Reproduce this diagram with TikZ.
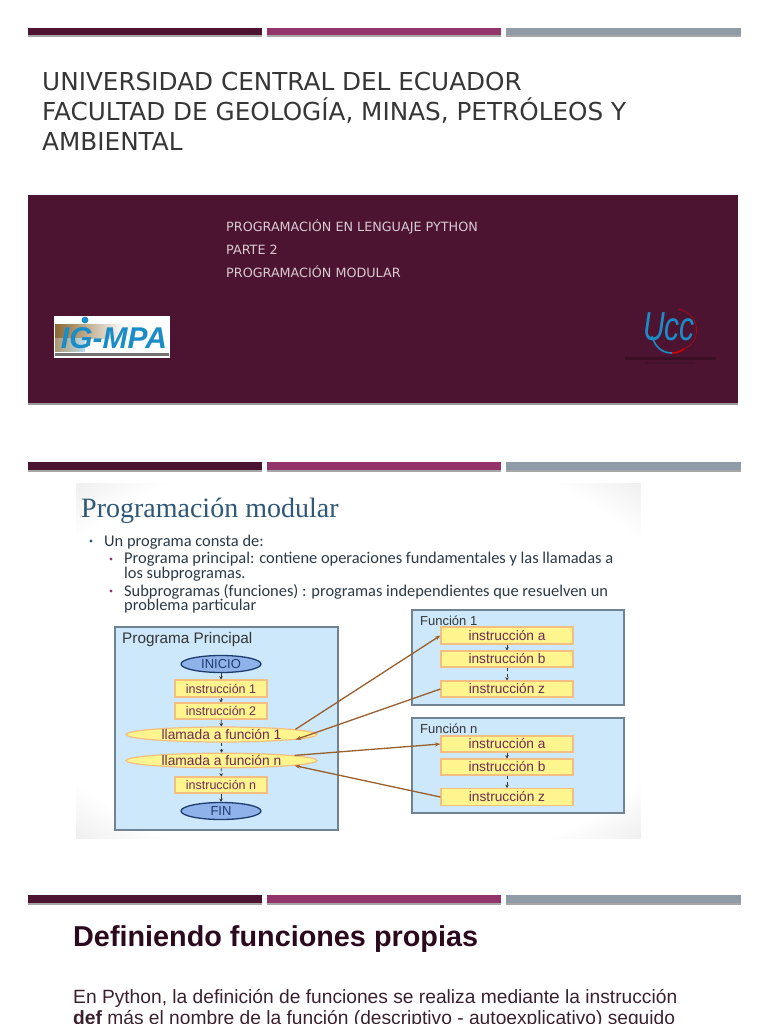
\documentclass[tikz,border=0pt]{standalone}
\usepackage{fontspec}
\setmainfont{Liberation Sans}
\newfontfamily\titlefont{DejaVu Sans}
\newfontfamily\slidefont{Carlito}
\newfontfamily\headfont{Liberation Serif}
\usetikzlibrary{arrows.meta,shapes.geometric}
\definecolor{ucePlum}{HTML}{4C1430}
\definecolor{uceRose}{HTML}{93356B}
\definecolor{uceSteel}{HTML}{8F9BA6}
\definecolor{uceInk}{HTML}{363636}
\definecolor{uceBody}{HTML}{3B2130}
\definecolor{uceHead}{HTML}{2C0A1E}
\definecolor{panelText}{HTML}{D8CBD2}
\definecolor{flowBlue}{HTML}{CCE8FA}
\definecolor{flowEdge}{HTML}{6F8392}
\definecolor{flowStep}{HTML}{FFF58F}
\definecolor{flowLine}{HTML}{F4BE80}
\definecolor{flowText}{HTML}{6E2A55}
\definecolor{flowOval}{HTML}{8FB2EA}
\definecolor{flowNavy}{HTML}{1E3C6E}
\definecolor{flowLink}{HTML}{9A5F2C}
\definecolor{slideHead}{HTML}{2F5878}
\definecolor{slideText}{HTML}{2B3A46}
\definecolor{logoBlue}{HTML}{1A8CC8}
\definecolor{logoGold}{HTML}{8A6A34}
\pgfdeclareradialshading{cornerGlow}{\pgfpointorigin}{color(0bp)=(white); color(30bp)=(white); color(36bp)=(black!7); color(50bp)=(black!7)}
\tikzset{
  title line/.style={anchor=base west, font=\titlefont\fontsize{24.7}{28}\selectfont, text=uceInk, inner sep=0pt},
  panel line/.style={anchor=base west, font=\titlefont\fontsize{12.75}{15}\selectfont, text=panelText, inner sep=0pt},
  slide line/.style={anchor=base west, font=\slidefont\fontsize{16.4}{18}\selectfont, text=slideText, inner sep=0pt},
  body line/.style={anchor=base west, font=\fontsize{19.2}{22}\selectfont, text=uceBody, inner sep=0pt},
  flow group/.style={draw=flowEdge, line width=1.3pt, fill=flowBlue},
  flow title/.style={anchor=base west, font=\fontsize{13}{15}\selectfont, text=uceInk, inner sep=0pt},
  flow step/.style={draw=flowLine, line width=1.2pt, fill=flowStep, text=flowText, inner sep=0pt,
    font=\fontsize{12.5}{14}\selectfont},
  func step/.style={flow step, minimum width=132pt, font=\fontsize{13.7}{15}\selectfont},
  flow call/.style={flow step, ellipse, minimum width=191pt, minimum height=15pt, font=\fontsize{13.8}{15}\selectfont},
  flow end/.style={ellipse, draw=flowNavy, line width=1.3pt, fill=flowOval, text=flowNavy, inner sep=0pt,
    minimum width=80pt, minimum height=17pt, font=\fontsize{13}{15}\selectfont},
  flow arrow/.style={-{Stealth[length=3.2pt,width=3.6pt]}, draw=uceInk, line width=0.7pt},
  flow link/.style={-{Stealth[length=5.5pt,width=4pt]}, draw=flowLink, line width=1.3pt}
}

\begin{document}
\begin{tikzpicture}[x=1pt,y=-1pt]
  \useasboundingbox (0,0) rectangle (768,1024);
  \clip (0,0) rectangle (768,1024);
  % header bars of the three slides
  \foreach \barY in {28,462,895} {
    \fill[black!35] (28,\barY+2.5) rectangle (262,\barY+9.5);
    \fill[black!35] (267,\barY+2.5) rectangle (501,\barY+9.5);
    \fill[black!35] (506,\barY+2.5) rectangle (741,\barY+9.5);
    \fill[ucePlum] (28,\barY) rectangle (262,\barY+7.5);
    \fill[uceRose] (267,\barY) rectangle (501,\barY+7.5);
    \fill[uceSteel] (506,\barY) rectangle (741,\barY+7.5);
  }
  % first slide
  \node[title line] (title1) at (42,91) {UNIVERSIDAD CENTRAL DEL ECUADOR};
  \node[title line] (title2) at (42,121) {FACULTAD DE GEOLOGÍA, MINAS, PETRÓLEOS Y};
  \node[title line] (title3) at (42,151) {AMBIENTAL};
  \fill[black!40] (28,197) rectangle (738,405);
  \fill[ucePlum] (28,195) rectangle (738,403);
  \node[panel line] (panel1) at (226,232) {PROGRAMACIÓN EN LENGUAJE PYTHON};
  \node[panel line] (panel2) at (226,254.5) {PARTE 2};
  \node[panel line] (panel3) at (226,277.5) {PROGRAMACIÓN MODULAR};
  % left logo
  \fill[white] (54,316) rectangle (170,358);
  \shade[left color=logoGold, right color=white] (55,324) rectangle (125,338);
  \shade[left color=logoGold!70!white, right color=logoBlue!30!white] (55,338) rectangle (85,351);
  \node[inner sep=0pt, text=logoBlue, font=\bfseries\itshape\fontsize{30}{30}\selectfont] (igmpa) at (114,338) {IG-MPA};
  \fill[logoBlue] (85,320) circle[radius=3.4];
  \fill[black!55] (55,353) rectangle (169,356);
  % right logo
  \draw[red!45!ucePlum, line width=0.9pt] (678,309) .. controls (700,313) and (703,341) .. (684,349);
  \draw[logoBlue, line width=1.6pt] (652,336) .. controls (655,348) and (663,353) .. (672,353);
  \draw[red!85!black, line width=1.6pt] (672,353) .. controls (677,353) and (681,351) .. (684,349);
  \node[inner sep=0pt, text=logoBlue, yscale=1.35, transform shape, font=\itshape\fontsize{30}{30}\selectfont] (ucc) at (669,327) {Ucc};
  \fill[black!22!ucePlum] (625,357) rectangle (716,359.5);
  \fill[black!12!ucePlum] (645,362) rectangle (695,364);
  % second slide, pasted picture
  \shade[shading=cornerGlow] (76,483) rectangle (641,838);
  \node[anchor=base west, inner sep=0pt, text=slideHead, font=\headfont\fontsize{28}{32}\selectfont] (modular) at (81,517) {Programación modular};
  \node[slide line] (item1) at (104,546) {Un programa consta de:};
  \node[slide line] (item2) at (124,563.5) {Programa principal: contiene operaciones fundamentales y las llamadas a};
  \node[slide line] (item3) at (124,578.5) {los subprogramas.};
  \node[slide line] (item4) at (124,596) {Subprogramas (funciones) : programas independientes que resuelven un};
  \node[slide line] (item5) at (124,610.5) {problema particular};
  \fill[slideHead] (91,541) circle[radius=1.7];
  \fill[uceRose] (111,559) circle[radius=1.7];
  \fill[uceRose] (111,591) circle[radius=1.7];
  % main program
  \draw[flow group] (115,627) rectangle (338,830);
  \node[flow title, font=\fontsize{15.3}{17}\selectfont] (mainlabel) at (122,643) {Programa Principal};
  \node[flow end] (inicio) at (221,664) {INICIO};
  \node[flow step, minimum width=92pt, minimum height=17pt] (ins1) at (221,688.5) {instrucción 1};
  \node[flow step, minimum width=92pt, minimum height=16pt] (ins2) at (221,711) {instrucción 2};
  \node[flow call] (call1) at (221.5,734.5) {llamada a función 1};
  \node[flow call, minimum height=14pt] (calln) at (221.5,760.5) {llamada a función n};
  \node[flow step, minimum width=92pt, minimum height=16pt] (insn) at (221,785) {instrucción n};
  \node[flow end] (fin) at (221,811) {FIN};
  \draw[flow arrow] (inicio) -- (ins1);
  \draw[flow arrow] (ins1) -- (ins2);
  \draw[flow arrow] (ins2) -- (call1);
  \draw[flow arrow, dashed] (call1) -- (calln);
  \draw[flow arrow, dashed] (calln) -- (insn);
  \draw[flow arrow] (insn) -- (fin);
  % first function
  \draw[flow group] (412,610) rectangle (624,705);
  \node[flow title] (f1label) at (420,625) {Función 1};
  \node[func step, minimum height=17pt] (f1a) at (507,635.5) {instrucción a};
  \node[func step, minimum height=16pt] (f1b) at (507,659) {instrucción b};
  \node[func step, minimum height=16pt] (f1z) at (507,689) {instrucción z};
  \draw[flow arrow] (f1a) -- (f1b);
  \draw[flow arrow, dashed] (f1b) -- (f1z);
  % last function
  \draw[flow group] (412,718) rectangle (624,813);
  \node[flow title] (fnlabel) at (420,733) {Función n};
  \node[func step, minimum height=16pt] (fna) at (507,744) {instrucción a};
  \node[func step, minimum height=16pt] (fnb) at (507,767) {instrucción b};
  \node[func step, minimum height=17pt] (fnz) at (507,797) {instrucción z};
  \draw[flow arrow] (fna) -- (fnb);
  \draw[flow arrow, dashed] (fnb) -- (fnz);
  % calls and returns
  \draw[flow link] (call1.4.8) -- (f1a.west);
  \draw[flow link] (f1z.west) -- (call1.-4.6);
  \draw[flow link] (calln.4.6) -- (fna.west);
  \draw[flow link] (fnz.west) -- (calln.-4.6);
  % third slide
  \node[anchor=base west, inner sep=0pt, text=uceHead, font=\bfseries\fontsize{28.8}{33}\selectfont] (heading) at (73,946) {Definiendo funciones propias};
  \node[body line] (body1) at (73,1003) {En Python, la definición de funciones se realiza mediante la instrucción};
  \node[body line] (body2) at (73,1024) {\textbf{def} más el nombre de la función (descriptivo - autoexplicativo) seguido};
\end{tikzpicture}
\end{document}
